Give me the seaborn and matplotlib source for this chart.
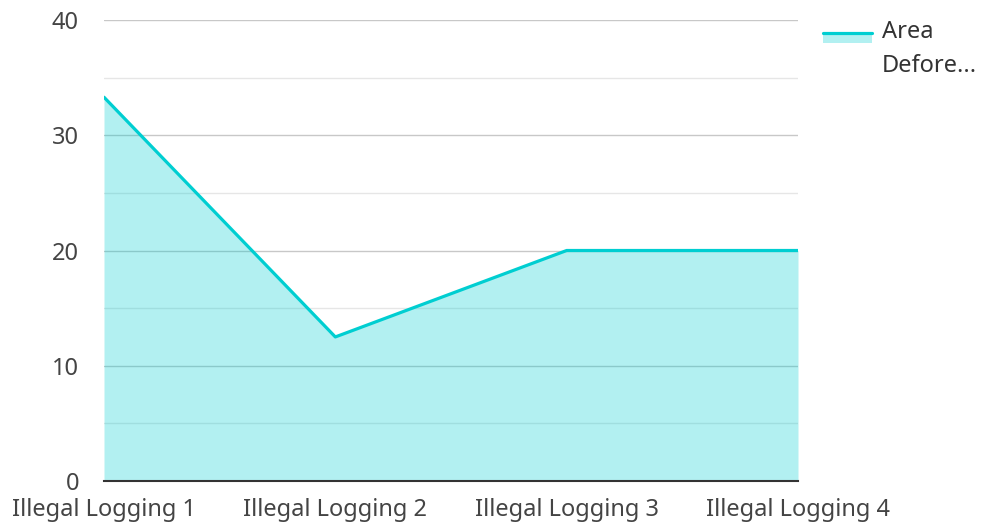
import numpy as np
import pandas as pd
import seaborn as sns
import matplotlib.pyplot as plt
from matplotlib.patches import Rectangle
from matplotlib.lines import Line2D

# Dados
categorias = ['Illegal Logging 1', 'Illegal Logging 2', 'Illegal Logging 3', 'Illegal Logging 4']
valores = [33.3, 12.5, 20, 20]
nome_serie = 'Area\nDefore...'

df = pd.DataFrame({'pos': np.arange(len(categorias)), 'valor': valores})

sns.set_style('white')
plt.rcParams['font.family'] = ['Noto Sans', 'DejaVu Sans']

cor = '#00CED1'
tam = 17

fig = plt.figure(figsize=(9.81, 5.24), dpi=100)
ax = fig.add_axes([104 / 981, 1 - 481 / 524, (798 - 104) / 981, (481 - 20) / 524])

# Grade
for y in range(5, 40, 10):
    ax.axhline(y, color='#e6e6e6', lw=1, zorder=0)
for y in range(10, 41, 10):
    ax.axhline(y, color='#c8c8c8', lw=1, zorder=0)

ax.fill_between(df['pos'], df['valor'], color=cor, alpha=0.3, lw=0, zorder=1)
sns.lineplot(data=df, x='pos', y='valor', color=cor, lw=2.3, ax=ax, zorder=2)

ax.set_xlim(0, len(categorias) - 1)
ax.set_ylim(0, 40)
ax.set_yticks(range(0, 41, 10))
ax.set_xticks(df['pos'])
ax.set_xticklabels(categorias)
ax.set_xlabel('')
ax.set_ylabel('')
ax.tick_params(axis='both', length=0, labelsize=tam, colors='#444444')
ax.tick_params(axis='y', pad=18)
ax.tick_params(axis='x', pad=12)

for s in ['top', 'right', 'left']:
    ax.spines[s].set_visible(False)
ax.spines['bottom'].set_color('#333333')
ax.spines['bottom'].set_linewidth(1.5)

# Legenda manual
W, H = 981, 524
fig.patches.append(Rectangle((823 / W, 1 - 43 / H), 49 / W, 11 / H, transform=fig.transFigure,
                             facecolor=cor, alpha=0.3, lw=0))
fig.lines.append(Line2D([823 / W, 872 / W], [1 - 33 / H, 1 - 33 / H], transform=fig.transFigure,
                        color=cor, lw=2.3))
linhas = nome_serie.split('\n')
fig.text(882 / W, 1 - 32 / H, linhas[0], fontsize=tam, color='#333333', va='center', ha='left')
fig.text(882 / W, 1 - 66 / H, linhas[1], fontsize=tam, color='#333333', va='center', ha='left')

fig.savefig('out.png', dpi=100)
